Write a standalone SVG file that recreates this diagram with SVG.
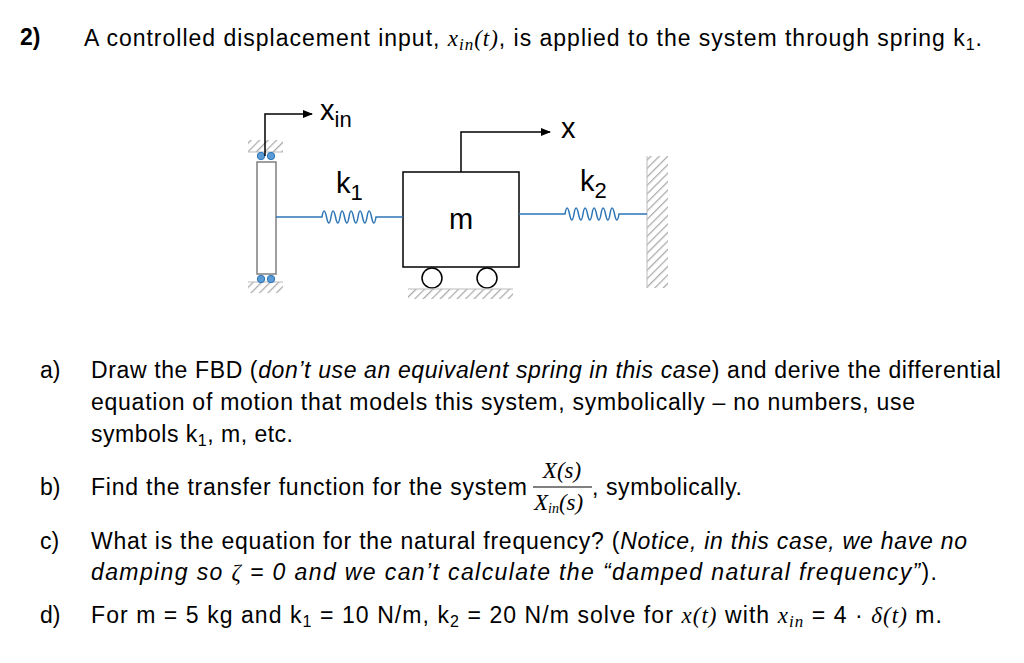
<svg xmlns="http://www.w3.org/2000/svg" width="1024" height="663" viewBox="0 0 1024 663">
<defs>
<style>
.t{font-family:"Liberation Sans",Arial,sans-serif;font-size:23px;fill:#000}
.m{font-family:"Liberation Serif","DejaVu Serif",serif;font-style:italic}
.i{font-style:italic}
.ln{stroke:#000;stroke-width:1.5;fill:none}
.sp{stroke:#2E75B6;stroke-width:1.5;fill:none}
.rl{fill:#5B9BD5;stroke:#2E75B6;stroke-width:1}
.L{font-size:29px}
</style>
<pattern id="h" width="6" height="6" patternUnits="userSpaceOnUse" patternTransform="rotate(45)">
<rect width="6" height="6" fill="#fff"/><line x1="0" y1="0" x2="0" y2="6" stroke="#aaa" stroke-width="2.5"/>
</pattern>
<marker id="a" markerWidth="10" markerHeight="8" refX="9" refY="4" orient="auto" markerUnits="userSpaceOnUse">
<path d="M0,0 L10,4 L0,8 z" fill="#000"/>
</marker>
</defs>
<rect width="1024" height="663" fill="#fff"/>
<text class="t" x="20" y="45" font-weight="bold">2)</text>
<text class="t" x="84" y="46" textLength="898" lengthAdjust="spacing">A controlled displacement input, <tspan class="m">x</tspan><tspan class="m" font-size="17" dy="4">in</tspan><tspan dy="-4" class="m">(t)</tspan>, is applied to the system through spring k<tspan font-size="16" dy="4">1</tspan><tspan dy="-4">.</tspan></text>

<g id="input">
<rect x="248" y="140" width="35" height="12" fill="url(#h)"/>
<line x1="248" y1="152" x2="283" y2="152" stroke="#bbb"/>
<rect x="248" y="282" width="35" height="11" fill="url(#h)"/>
<line x1="248" y1="282" x2="283" y2="282" stroke="#bbb"/>
<circle class="rl" cx="261" cy="156" r="3.7"/><circle class="rl" cx="271" cy="156" r="3.7"/>
<circle class="rl" cx="261" cy="279" r="3.7"/><circle class="rl" cx="271" cy="279" r="3.7"/>
<rect x="257" y="162" width="19" height="112" fill="#fff" stroke="#7f7f7f" stroke-width="1.5"/>
</g>
<g id="mass">
<rect x="403" y="172" width="116" height="95" fill="#fff" stroke="#000" stroke-width="1.5"/>
<text class="t L" x="461" y="229" text-anchor="middle">m</text>
<circle cx="432" cy="278" r="10" fill="#fff" stroke="#000" stroke-width="1.5"/>
<circle cx="487" cy="278" r="10" fill="#fff" stroke="#000" stroke-width="1.5"/>
<rect x="408" y="289" width="105" height="10" fill="url(#h)"/>
<line x1="408" y1="289" x2="513" y2="289" stroke="#bbb"/>
</g>
<g id="wall">
<rect x="647" y="156" width="21" height="132" fill="url(#h)"/>
<line x1="647" y1="156" x2="647" y2="288" stroke="#bbb"/>
</g>
<g id="connectors">
<path class="ln" d="M265,156 V114 H312" marker-end="url(#a)"/>
<path class="ln" d="M461,172 V132 H550" marker-end="url(#a)"/>
<path class="sp" d="M276,217 H322 q2,-12 4.5,0 q2.5,12 4.5,0 q2,-12 4.5,0 q2.5,12 4.5,0 q2,-12 4.5,0 q2.5,12 4.5,0 q2,-12 4.5,0 q2.5,12 4.5,0 q2,-12 4.5,0 q2.5,12 4.5,0 q2,-12 4.5,0 q2.5,12 4.5,0 H403"/>
<path class="sp" d="M519,214 H565 q2,-12 4.5,0 q2.5,12 4.5,0 q2,-12 4.5,0 q2.5,12 4.5,0 q2,-12 4.5,0 q2.5,12 4.5,0 q2,-12 4.5,0 q2.5,12 4.5,0 q2,-12 4.5,0 q2.5,12 4.5,0 q2,-12 4.5,0 q2.5,12 4.5,0 H647"/>
</g>
<g id="labels">
<text class="t L" x="320" y="120">x<tspan font-size="22" dy="7">in</tspan></text>
<text class="t L" x="561" y="138">x</text>
<text class="t L" x="336" y="193">k<tspan font-size="22" dy="7">1</tspan></text>
<text class="t L" x="580" y="191">k<tspan font-size="22" dy="7">2</tspan></text>
</g>

<text class="t" x="40" y="378">a)</text>
<text class="t" x="91" y="378" textLength="910" lengthAdjust="spacing">Draw the FBD (<tspan class="i">don’t use an equivalent spring in this case</tspan>) and derive the differential</text>
<text class="t" x="91" y="410" textLength="824" lengthAdjust="spacing">equation of motion that models this system, symbolically – no numbers, use</text>
<text class="t" x="91" y="442" textLength="202" lengthAdjust="spacing">symbols k<tspan font-size="16" dy="4">1</tspan><tspan dy="-4">, m, etc.</tspan></text>

<text class="t" x="40" y="495">b)</text>
<text class="t" x="91" y="495" textLength="436" lengthAdjust="spacing">Find the transfer function for the system</text>
<text class="t m" x="562" y="478" font-size="18" text-anchor="middle">X(s)</text>
<line x1="533" y1="487" x2="592" y2="487" stroke="#000" stroke-width="1"/>
<text class="t m" x="534" y="510" font-size="18">X<tspan font-size="14" dy="3">in</tspan><tspan dy="-3">(s)</tspan></text>
<text class="t" x="592" y="495" textLength="150" lengthAdjust="spacing">, symbolically.</text>

<text class="t" x="40" y="549">c)</text>
<text class="t" x="91" y="549" textLength="876" lengthAdjust="spacing">What is the equation for the natural frequency? (<tspan class="i">Notice, in this case, we have no</tspan></text>
<text class="t i" x="91" y="580" textLength="846" lengthAdjust="spacing">damping so <tspan class="m">ζ</tspan> = 0 and we can’t calculate the “damped natural frequency”<tspan font-style="normal">).</tspan></text>

<text class="t" x="40" y="623">d)</text>
<text class="t" x="91" y="623" textLength="851" lengthAdjust="spacing">For m = 5 kg and k<tspan font-size="16" dy="4">1</tspan><tspan dy="-4"> = 10 N/m, k</tspan><tspan font-size="16" dy="4">2</tspan><tspan dy="-4"> = 20 N/m solve for </tspan><tspan class="m">x(t)</tspan> with <tspan class="m">x</tspan><tspan class="m" font-size="17" dy="4">in</tspan><tspan dy="-4"> = 4 · </tspan><tspan class="m">δ(t)</tspan> m.</text>
</svg>
